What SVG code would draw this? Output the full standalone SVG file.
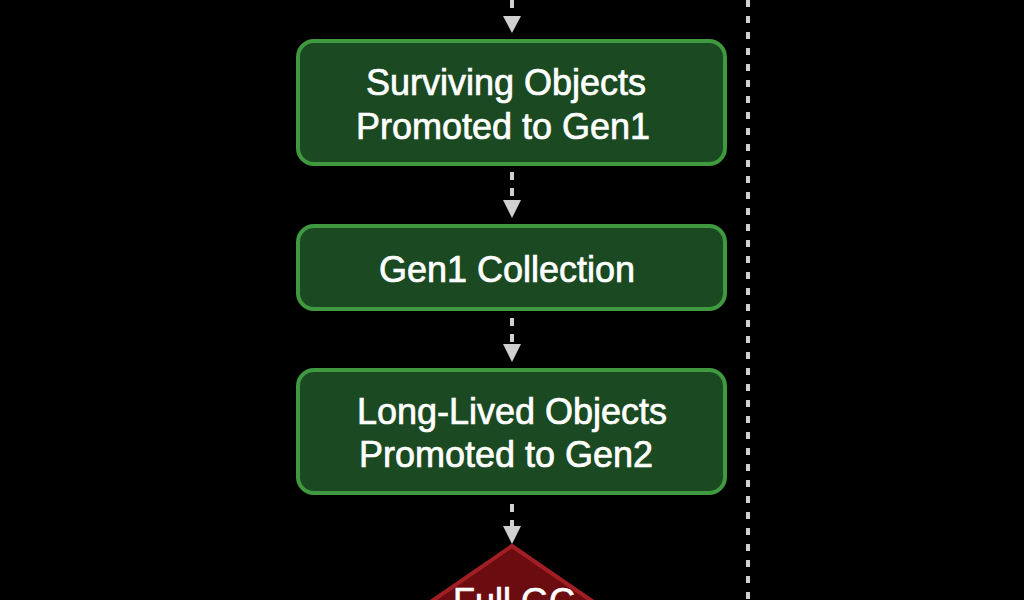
<svg xmlns="http://www.w3.org/2000/svg" width="1024" height="600" viewBox="0 0 1024 600">
<style>
.box{fill:#1b4a22;stroke:#3f9a3f;stroke-width:4}
.t{font-family:"Liberation Sans",Arial,sans-serif;font-size:36px;fill:#fff;stroke:#fff;stroke-width:0.7;text-anchor:middle}
.c{stroke:#d0d0d0;stroke-width:4;stroke-dasharray:8 8;fill:none}
</style>
<rect width="1024" height="600" fill="#000"/>
<g id="connectors">
<line x1="748" y1="0" x2="748" y2="600" stroke="#d0d0d0" stroke-width="4" stroke-dasharray="7 9"/>
<line class="c" x1="512" y1="0" x2="512" y2="14"/><path d="M503,16 L521,16 L512,33 Z" fill="#d0d0d0"/>
<line class="c" x1="512" y1="172" x2="512" y2="198"/><path d="M503,200 L521,200 L512,218 Z" fill="#d0d0d0"/>
<line class="c" x1="512" y1="318" x2="512" y2="342"/><path d="M503,344 L521,344 L512,362 Z" fill="#d0d0d0"/>
<line class="c" x1="512" y1="504" x2="512" y2="526"/><path d="M503,526 L521,526 L512,544 Z" fill="#d0d0d0"/>
</g>
<g id="n1"><rect class="box" x="298" y="41" width="427" height="123" rx="16"/>
<text class="t" x="506" y="95">Surviving Objects</text><text class="t" x="503" y="139">Promoted to Gen1</text></g>
<g id="n2"><rect class="box" x="298" y="226" width="427" height="83" rx="16"/>
<text class="t" x="507" y="282">Gen1 Collection</text></g>
<g id="n3"><rect class="box" x="298" y="370" width="427" height="123" rx="16"/>
<text class="t" x="512" y="424">Long-Lived Objects</text><text class="t" x="506" y="467">Promoted to Gen2</text></g>
<g id="n4"><path d="M512,546 L672,656 L512,766 L352,656 Z" fill="#6b0c10" stroke="#a11f24" stroke-width="4"/>
<text class="t" x="514" y="614">Full GC</text></g>
</svg>
